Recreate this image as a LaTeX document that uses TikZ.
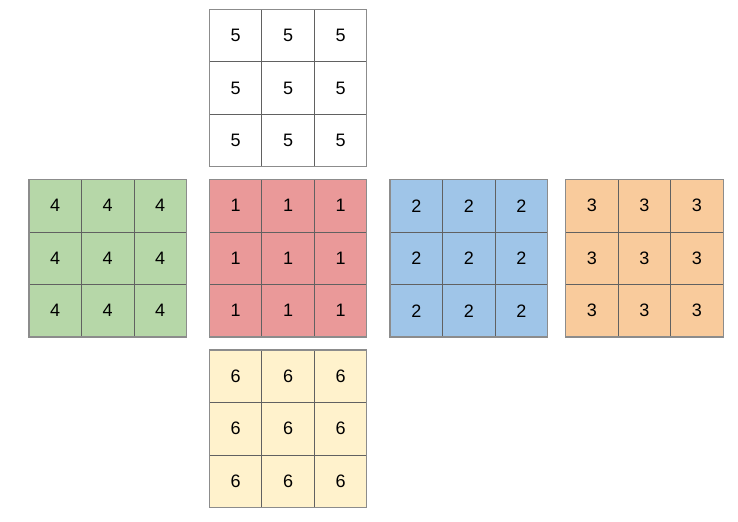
\documentclass[tikz,border=0pt]{standalone}
\usepackage{fontspec}
\setmainfont{Liberation Sans}
\usepackage{xcolor}
\definecolor{facered}{HTML}{EA9999}
\definecolor{faceblue}{HTML}{9FC5E8}
\definecolor{faceorange}{HTML}{F9CB9C}
\definecolor{facegreen}{HTML}{B6D7A8}
\definecolor{faceyellow}{HTML}{FFF2CC}
\definecolor{facewhite}{HTML}{FFFFFF}
\colorlet{gridline}{black!62}
\colorlet{rimline}{black!45}
\tikzstyle{cell}=[draw=gridline,line width=0.75pt,minimum size=39.375pt,inner sep=0,outer sep=0,font=\fontsize{13.5pt}{15pt}\selectfont]

\begin{document}
\begin{tikzpicture}[x=0.75pt,y=-0.75pt]
\useasboundingbox (0,0) rectangle (738,521);

% faces: name/left/top/colour/number
\foreach \f/\fx/\fy/\fc/\fn in {top/209.3/9.3/facewhite/5,left/29/179.5/facegreen/4,front/209.3/179.5/facered/1,right/390/179.5/faceblue/2,back/565.7/179.5/faceorange/3,bottom/209.3/350/faceyellow/6}{
  \foreach \i in {0,1,2}{
    \foreach \j in {0,1,2}{
      \node[cell,fill=\fc] (\f-\i-\j) at (\fx+26.25+52.5*\i,\fy+26.25+52.5*\j) {\fn};
    }
  }
  \draw[rimline,line width=0.9pt] (\f-0-0.north west) rectangle (\f-2-2.south east);
}
\end{tikzpicture}
\end{document}
